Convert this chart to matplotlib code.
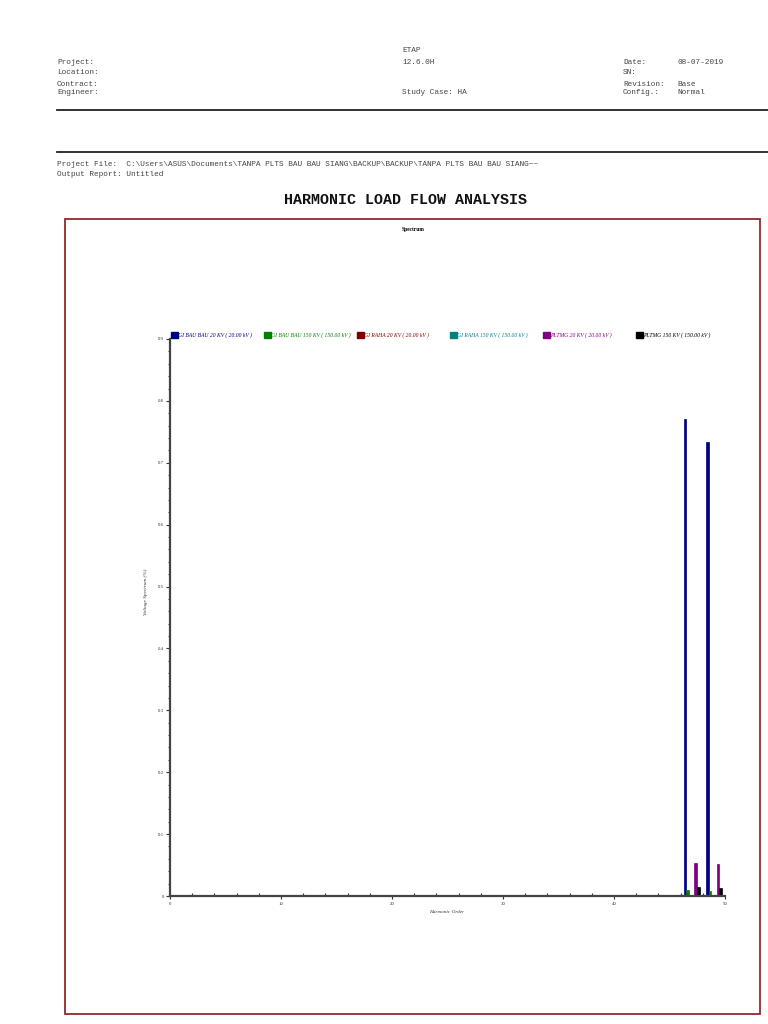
import matplotlib
matplotlib.use("Agg")
import matplotlib.pyplot as plt
from matplotlib.patches import Rectangle
from matplotlib.lines import Line2D
from matplotlib.ticker import MultipleLocator, FixedLocator
import numpy as np

# ---- data ----
harmonic_orders = [47, 49]
series_names = [
    "GI BAU BAU 20 KV ( 20.00 kV )",
    "GI BAU BAU 150 KV ( 150.00 kV )",
    "GI RAHA 20 KV ( 20.00 kV )",
    "GI RAHA 150 KV ( 150.00 kV )",
    "PLTMG 20 KV ( 20.00 kV )",
    "PLTMG 150 KV ( 150.00 kV )",
]
gi_baubau_20 = [0.771, 0.734]
gi_baubau_150 = [0.010, 0.008]
gi_raha_20 = [0.0, 0.0]
gi_raha_150 = [0.0, 0.0]
pltmg_20 = [0.053, 0.051]
pltmg_150 = [0.015, 0.013]
series_values = [gi_baubau_20, gi_baubau_150, gi_raha_20, gi_raha_150, pltmg_20, pltmg_150]
series_colors = ["#000080", "#008000", "#800000", "#008080", "#800080", "#000000"]
y_ticks = [0, 0.1, 0.2, 0.3, 0.4, 0.5, 0.6, 0.7, 0.8, 0.9]
y_tick_labels = ["0", "0.1", "0.2", "0.3", "0.4", "0.5", "0.6", "0.7", "0.8", "0.9"]
x_ticks = [0, 10, 20, 30, 40, 50]

W, H = 768, 1024
fig = plt.figure(figsize=(W / 100, H / 100), dpi=100)

def fx(x):
    return x / W

def fy(y):
    return 1 - y / H

mono = ["Liberation Mono", "DejaVu Sans Mono"]
serif = ["Liberation Serif", "DejaVu Serif"]

def htext(x, y, s, **kw):
    fig.text(fx(x), fy(y), s, family=mono, fontsize=5.6, color="#444444",
             va="center", ha="left", **kw)

# ---- header ----
htext(402, 51, "ETAP")
htext(57, 62, "Project:")
htext(402, 62, "12.6.0H")
htext(623, 62, "Date:")
htext(677, 62, "08-07-2019")
htext(57, 73, "Location:")
htext(623, 73, "SN:")
htext(57, 84, "Contract:")
htext(623, 84, "Revision:")
htext(677, 84, "Base")
htext(57, 93, "Engineer:")
htext(402, 93, "Study Case: HA")
htext(623, 93, "Config.:")
htext(677, 93, "Normal")
for yy in (110, 152):
    fig.add_artist(Line2D([fx(57), fx(768)], [fy(yy), fy(yy)], color="#222222",
                          lw=1.3, transform=fig.transFigure))
htext(57, 164, "Project File:  C:\\Users\\ASUS\\Documents\\TANPA PLTS BAU BAU SIANG\\BACKUP\\BACKUP\\TANPA PLTS BAU BAU SIANG~~")
htext(57, 175, "Output Report: Untitled")

fig.text(fx(405), fy(200), "HARMONIC LOAD FLOW ANALYSIS", family=mono, fontsize=10.8,
         fontweight="bold", ha="center", va="center", color="#111111")

# ---- red frame ----
fig.add_artist(Rectangle((fx(65), fy(1014)), fx(760) - fx(65), fy(219) - fy(1014),
                         transform=fig.transFigure, fill=False, edgecolor="#8b2c2c", lw=1.3))
fig.text(fx(413), fy(229), "Spectrum", family=serif, fontsize=4, fontweight="bold",
         ha="center", va="center")

# ---- axes ----
ax = fig.add_axes([fx(170), fy(896), fx(725) - fx(170), fy(339) - fy(896)])
ax.set_xlim(0, 50)
ax.set_ylim(0, 0.9)
width = 0.24
n = len(series_values)
for i, (vals, col) in enumerate(zip(series_values, series_colors)):
    xs = np.array(harmonic_orders) + (i - (n - 1) / 2) * width
    ax.bar(xs, vals, width=width, color=col, edgecolor=col, linewidth=0.5)

for s in ("top", "right"):
    ax.spines[s].set_visible(False)
for s in ("left", "bottom"):
    ax.spines[s].set_color("#444444")
    ax.spines[s].set_linewidth(1.6)

ax.yaxis.set_major_locator(FixedLocator(y_ticks))
ax.set_yticklabels(y_tick_labels)
ax.yaxis.set_minor_locator(MultipleLocator(0.02))
ax.xaxis.set_major_locator(FixedLocator(x_ticks))
ax.set_xticklabels([str(v) for v in x_ticks])
ax.xaxis.set_minor_locator(MultipleLocator(2))
ax.tick_params(axis="y", which="major", direction="out", length=3, width=0.8,
               labelsize=3.5, colors="#333333", pad=1.5)
ax.tick_params(axis="y", which="minor", direction="out", length=1.5, width=0.7, colors="#333333")
ax.tick_params(axis="x", which="major", direction="out", length=2.5, width=0.8,
               labelsize=3.5, colors="#333333", pad=1.5)
ax.tick_params(axis="x", which="minor", direction="in", length=2.5, width=0.8, colors="#333333")
for lab in ax.get_xticklabels() + ax.get_yticklabels():
    lab.set_family(serif)

fig.text(fx(447), fy(912), "Harmonic Order", family=serif, style="italic", fontsize=3.8,
         ha="center", va="center", color="#333333")
fig.text(fx(146), fy(592), "Voltage Spectrum (%)", family=serif, style="italic", fontsize=3.8,
         ha="center", va="center", rotation=90, color="#333333")

# ---- legend ----
leg_x = [171, 264, 357, 450, 543, 636]
for x0, name, col in zip(leg_x, series_names, series_colors):
    fig.add_artist(Rectangle((fx(x0), fy(338)), fx(7), 6 / H, transform=fig.transFigure,
                             facecolor=col, edgecolor=col))
    fig.text(fx(x0 + 7), fy(335), name, family=serif, style="italic", fontsize=4.1,
             color=col, ha="left", va="center")

fig.savefig("out.png", dpi=100, facecolor="white")
